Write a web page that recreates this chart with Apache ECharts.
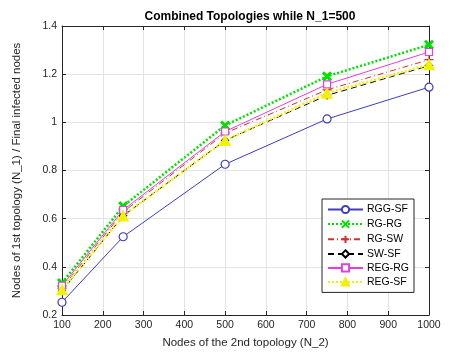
<!DOCTYPE html>
<html><head><meta charset="utf-8">
<script src="https://cdn.jsdelivr.net/npm/echarts@6/dist/echarts.min.js"></script>
<style>html,body{margin:0;padding:0;background:#fff}#c{width:474px;height:355px}</style>
</head><body><div id="c"></div>
<script>
const xValues = [100, 250, 500, 750, 1000];
const seriesNames = ['RGG-SF', 'RG-RG', 'RG-SW', 'SW-SF', 'REG-RG', 'REG-SF'];
const rggSF = [0.253, 0.525, 0.826, 1.014, 1.146];
const rgRG  = [0.333, 0.652, 0.987, 1.191, 1.322];
const rgSW  = [0.312, 0.628, 0.955, 1.135, 1.260];
const swSF  = [0.300, 0.612, 0.925, 1.112, 1.235];
const regRG = [0.322, 0.636, 0.962, 1.158, 1.292];
const regSF = [0.305, 0.612, 0.925, 1.121, 1.240];
const xTicks = [100, 200, 300, 400, 500, 600, 700, 800, 900, 1000];
const yTicks = [0.2, 0.4, 0.6, 0.8, 1, 1.2, 1.4];

const F = 'Liberation Sans, Arial, Helvetica, sans-serif';
const pair = arr => xValues.map((x, i) => [x, arr[i]]);
const plusPath = 'path://M0,5L10,5M5,0L5,10';
const xPath = 'path://M0,0L10,10M10,0L0,10';

function mk(name, data, color, type, width, symbol, size, filled) {
  return {
    name, type: 'line', data: pair(data), symbol, symbolSize: size,
    showSymbol: true,
    lineStyle: { color, type, width },
    itemStyle: { color: filled ? color : '#fff', borderColor: color, borderWidth: 1.2 },
    emphasis: { disabled: true },
    animation: false, z: 3
  };
}

const series = [
  mk(seriesNames[0], rggSF, '#3d3dc2', 'solid', 1, 'circle', 8, false),
  mk(seriesNames[1], rgRG, '#00e000', [2, 2], 2.5, xPath, 8, false),
  mk(seriesNames[2], rgSW, '#d03030', [6, 3, 1, 3], 1, plusPath, 9, false),
  mk(seriesNames[3], swSF, '#000000', [6, 4], 1, 'diamond', 7, false),
  mk(seriesNames[4], regRG, '#e040e0', 'solid', 1, 'rect', 7, false),
  mk(seriesNames[5], regSF, '#f2f200', [2, 2], 2.5, 'triangle', 10, true)
];
series[1].itemStyle = { color: 'none', borderColor: '#00e000', borderWidth: 3 };
series[2].itemStyle = { color: 'none', borderColor: '#d03030', borderWidth: 1.2 };

const chart = echarts.init(document.getElementById('c'), null, { renderer: 'canvas' });
const axLine = { show: true, lineStyle: { color: '#262626', width: 1 } };
chart.setOption({
  backgroundColor: '#fff',
  animation: false,
  title: { text: 'Combined Topologies while N_1=500', left: 245, top: 6, textAlign: 'center',
    textStyle: { fontFamily: F, fontSize: 12, fontWeight: 'bold', color: '#000' } },
  grid: { left: 62, right: 45, top: 26, bottom: 40, show: false },
  legend: {
    orient: 'vertical', left: 322, top: 199,
    data: seriesNames, itemWidth: 35, itemHeight: 9, itemGap: 3,
    padding: [5, 5, 5, 5], borderColor: '#262626', borderWidth: 1, backgroundColor: '#fff',
    textStyle: { fontFamily: F, fontSize: 10.5, color: '#000', padding: [0, 0, 0, -1] }
  },
  xAxis: [{
    type: 'value', min: 100, max: 1000, interval: 100, position: 'bottom',
    name: 'Nodes of the 2nd topology (N_2)', nameLocation: 'middle', nameGap: 22,
    nameTextStyle: { fontFamily: F, fontSize: 11.5, color: '#262626' },
    axisLine: axLine, axisTick: { show: true, inside: true, length: 4, lineStyle: { color: '#262626' } },
    axisLabel: { fontFamily: F, fontSize: 10.5, color: '#262626', margin: 5,
      formatter: v => xTicks.includes(Math.round(v)) ? String(Math.round(v)) : '' },
    splitLine: { show: true, lineStyle: { color: '#e3e3e3', width: 1 } }
  }, {
    type: 'value', min: 100, max: 1000, interval: 100, position: 'top',
    axisLine: axLine, axisTick: { show: true, inside: true, length: 4, lineStyle: { color: '#262626' } },
    axisLabel: { show: false }, splitLine: { show: false }
  }],
  yAxis: [{
    type: 'value', min: 0.2, max: 1.4, interval: 0.2, position: 'left',
    name: 'Nodes of 1st topology (N_1) / Final infected nodes', nameLocation: 'middle', nameGap: 39,
    nameTextStyle: { fontFamily: F, fontSize: 11.5, color: '#262626' },
    axisLine: axLine, axisTick: { show: true, inside: true, length: 4, lineStyle: { color: '#262626' } },
    axisLabel: { fontFamily: F, fontSize: 10.5, color: '#262626', margin: 5,
      formatter: v => { const r = Math.round(v * 10) / 10; return yTicks.includes(r) ? String(r) : ''; } },
    splitLine: { show: true, lineStyle: { color: '#e3e3e3', width: 1 } }
  }, {
    type: 'value', min: 0.2, max: 1.4, interval: 0.2, position: 'right',
    axisLine: axLine, axisTick: { show: true, inside: true, length: 4, lineStyle: { color: '#262626' } },
    axisLabel: { show: false }, splitLine: { show: false }
  }],
  series
});
</script></body></html>
